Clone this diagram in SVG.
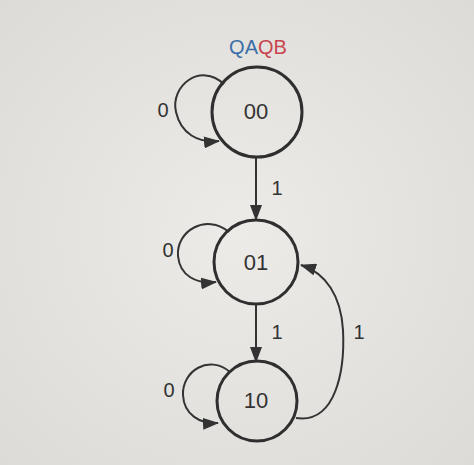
<svg xmlns="http://www.w3.org/2000/svg" width="474" height="465" viewBox="0 0 474 465">
<style>
.node{fill:none;stroke:#2f2f2f;stroke-width:3}
.edge{fill:none;stroke:#333;stroke-width:2}
.lbl{font-family:"Liberation Sans",Arial,sans-serif;fill:#333;text-anchor:middle}
.nl{font-size:22px}
.el{font-size:20px}
</style>
<defs>
<radialGradient id="bg" cx="0.5" cy="0.5" r="0.75">
<stop offset="0" stop-color="#ecebe7"/>
<stop offset="1" stop-color="#dbdad6"/>
</radialGradient>
<marker id="ah" markerUnits="userSpaceOnUse" markerWidth="16" markerHeight="12" refX="15" refY="6" orient="auto">
<path d="M0,0 L16,6 L0,12 Z" fill="#333"/>
</marker>
</defs>
<rect width="474" height="465" fill="url(#bg)"/>
<text x="258" y="54" font-family="Liberation Sans,Arial,sans-serif" font-size="20" text-anchor="middle"><tspan fill="#3a6ea8">QA</tspan><tspan fill="#c9444e">QB</tspan></text>
<g id="connectors">
<path class="edge" d="M224,84 C200,62 170,86 176,112 C181,134 198,143 219,141" marker-end="url(#ah)"/>
<text class="lbl el" x="163" y="117">0</text>
<path class="edge" d="M256,158 L256,220" marker-end="url(#ah)"/>
<text class="lbl el" x="277" y="195">1</text>
<path class="edge" d="M229,232 C206,213 176,231 178,256 C180,276 196,284 216,282" marker-end="url(#ah)"/>
<text class="lbl el" x="168" y="257">0</text>
<path class="edge" d="M256,304 L256,362" marker-end="url(#ah)"/>
<text class="lbl el" x="277" y="339">1</text>
<path class="edge" d="M230,372 C209,354 182,371 183,395 C184,415 200,424 218,423" marker-end="url(#ah)"/>
<text class="lbl el" x="169" y="397">0</text>
<path class="edge" d="M296,418 C336,424 345,370 343,330 C341,296 326,273 301,265" marker-end="url(#ah)"/>
<text class="lbl el" x="359" y="339">1</text>
</g>
<g id="n00">
<circle class="node" cx="257" cy="112" r="45"/>
<text class="lbl nl" x="256" y="119">00</text>
</g>
<g id="n01">
<circle class="node" cx="256" cy="262" r="42"/>
<text class="lbl nl" x="256" y="270">01</text>
</g>
<g id="n10">
<circle class="node" cx="257" cy="401" r="40"/>
<text class="lbl nl" x="256" y="408">10</text>
</g>
</svg>
